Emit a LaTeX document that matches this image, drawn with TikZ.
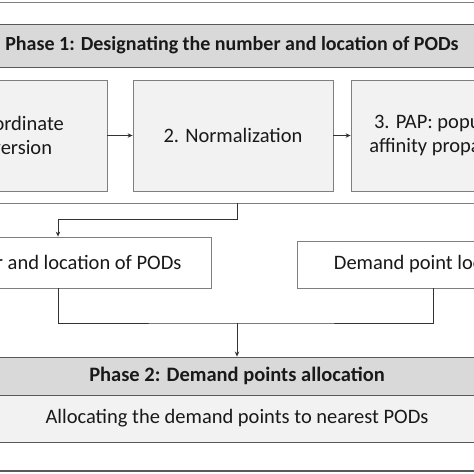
\documentclass[tikz,border=0pt]{standalone}
\usepackage{fontspec}
\setmainfont{Carlito}
\usetikzlibrary{arrows.meta}
\definecolor{headgray}{HTML}{D9D9D9}
\definecolor{boxgray}{HTML}{F2F2F2}
\definecolor{linegray}{HTML}{7F7F7F}
\definecolor{darkgray}{HTML}{595959}
\begin{document}
\begin{tikzpicture}[x=1pt,y=-1pt,
    frame/.style={draw=darkgray, line width=1.4pt, minimum width=500pt, inner sep=0pt},
    header/.style={draw=darkgray, line width=0.9pt, fill=headgray, minimum width=500pt, inner sep=0pt, font=\fontsize{20.5}{24}\selectfont\bfseries, text=black!90},
    body/.style={draw=darkgray, line width=0.9pt, fill=boxgray, minimum width=500pt, inner sep=0pt, font=\fontsize{20.5}{24}\selectfont, text=black!90},
    stepbox/.style={draw=linegray, line width=0.8pt, fill=boxgray, minimum width=200pt, minimum height=111pt, inner sep=0pt, align=center, font=\fontsize{20.5}{24}\selectfont, text=black!90},
    result/.style={draw=linegray, line width=0.8pt, fill=white, inner sep=0pt, font=\fontsize{20.5}{24}\selectfont, text=black!90},
    link/.style={draw=black!80, line width=0.8pt},
    >={Stealth[length=5pt,width=4.5pt]}]
    \useasboundingbox (0,0) rectangle (474,474);
    \node [frame, minimum height=468.5pt] (frame) at (237,236.75) {};
    \node [draw=linegray, line width=0.8pt, minimum width=500pt, minimum height=200.5pt, inner sep=0pt] (phaseone) at (237,102.75) {};
    \node [header, minimum height=43pt, font=\fontsize{20}{24}\selectfont\bfseries] (headone) at (232,45.5) {Phase 1: Designating the number and location of PODs};
    \node [stepbox] (conv) at (7,135.5) {1. Coordinate\\conversion};
    \node [stepbox] (norm) at (233,135.5) {2. Normalization};
    \node [stepbox] (pap) at (451,135.5) {3. PAP: population\\affinity propagation};
    \node [result, minimum width=306pt, minimum height=51pt] (pods) at (58,262.5) {Number and location of PODs};
    \node [result, minimum width=272pt, minimum height=47pt] (demand) at (433,264.5) {Demand point locations};
    \node [header, minimum height=38pt] (headtwo) at (237,376) {Phase 2: Demand points allocation};
    \node [body, minimum height=47pt] (alloc) at (237,418.5) {Allocating the demand points to nearest PODs};
    \coordinate (join) at (237,323);
    \path[link, ->] (conv) -- (norm);
    \path[link, ->] (norm) -- (pap);
    \path[link, ->] (phaseone.south) -- ++(0,16) -| (pods.north);
    \path[link] (pods.south) |- (join) -| (demand.south);
    \path[link, ->] (join) -- (headtwo.north);
\end{tikzpicture}
\end{document}
